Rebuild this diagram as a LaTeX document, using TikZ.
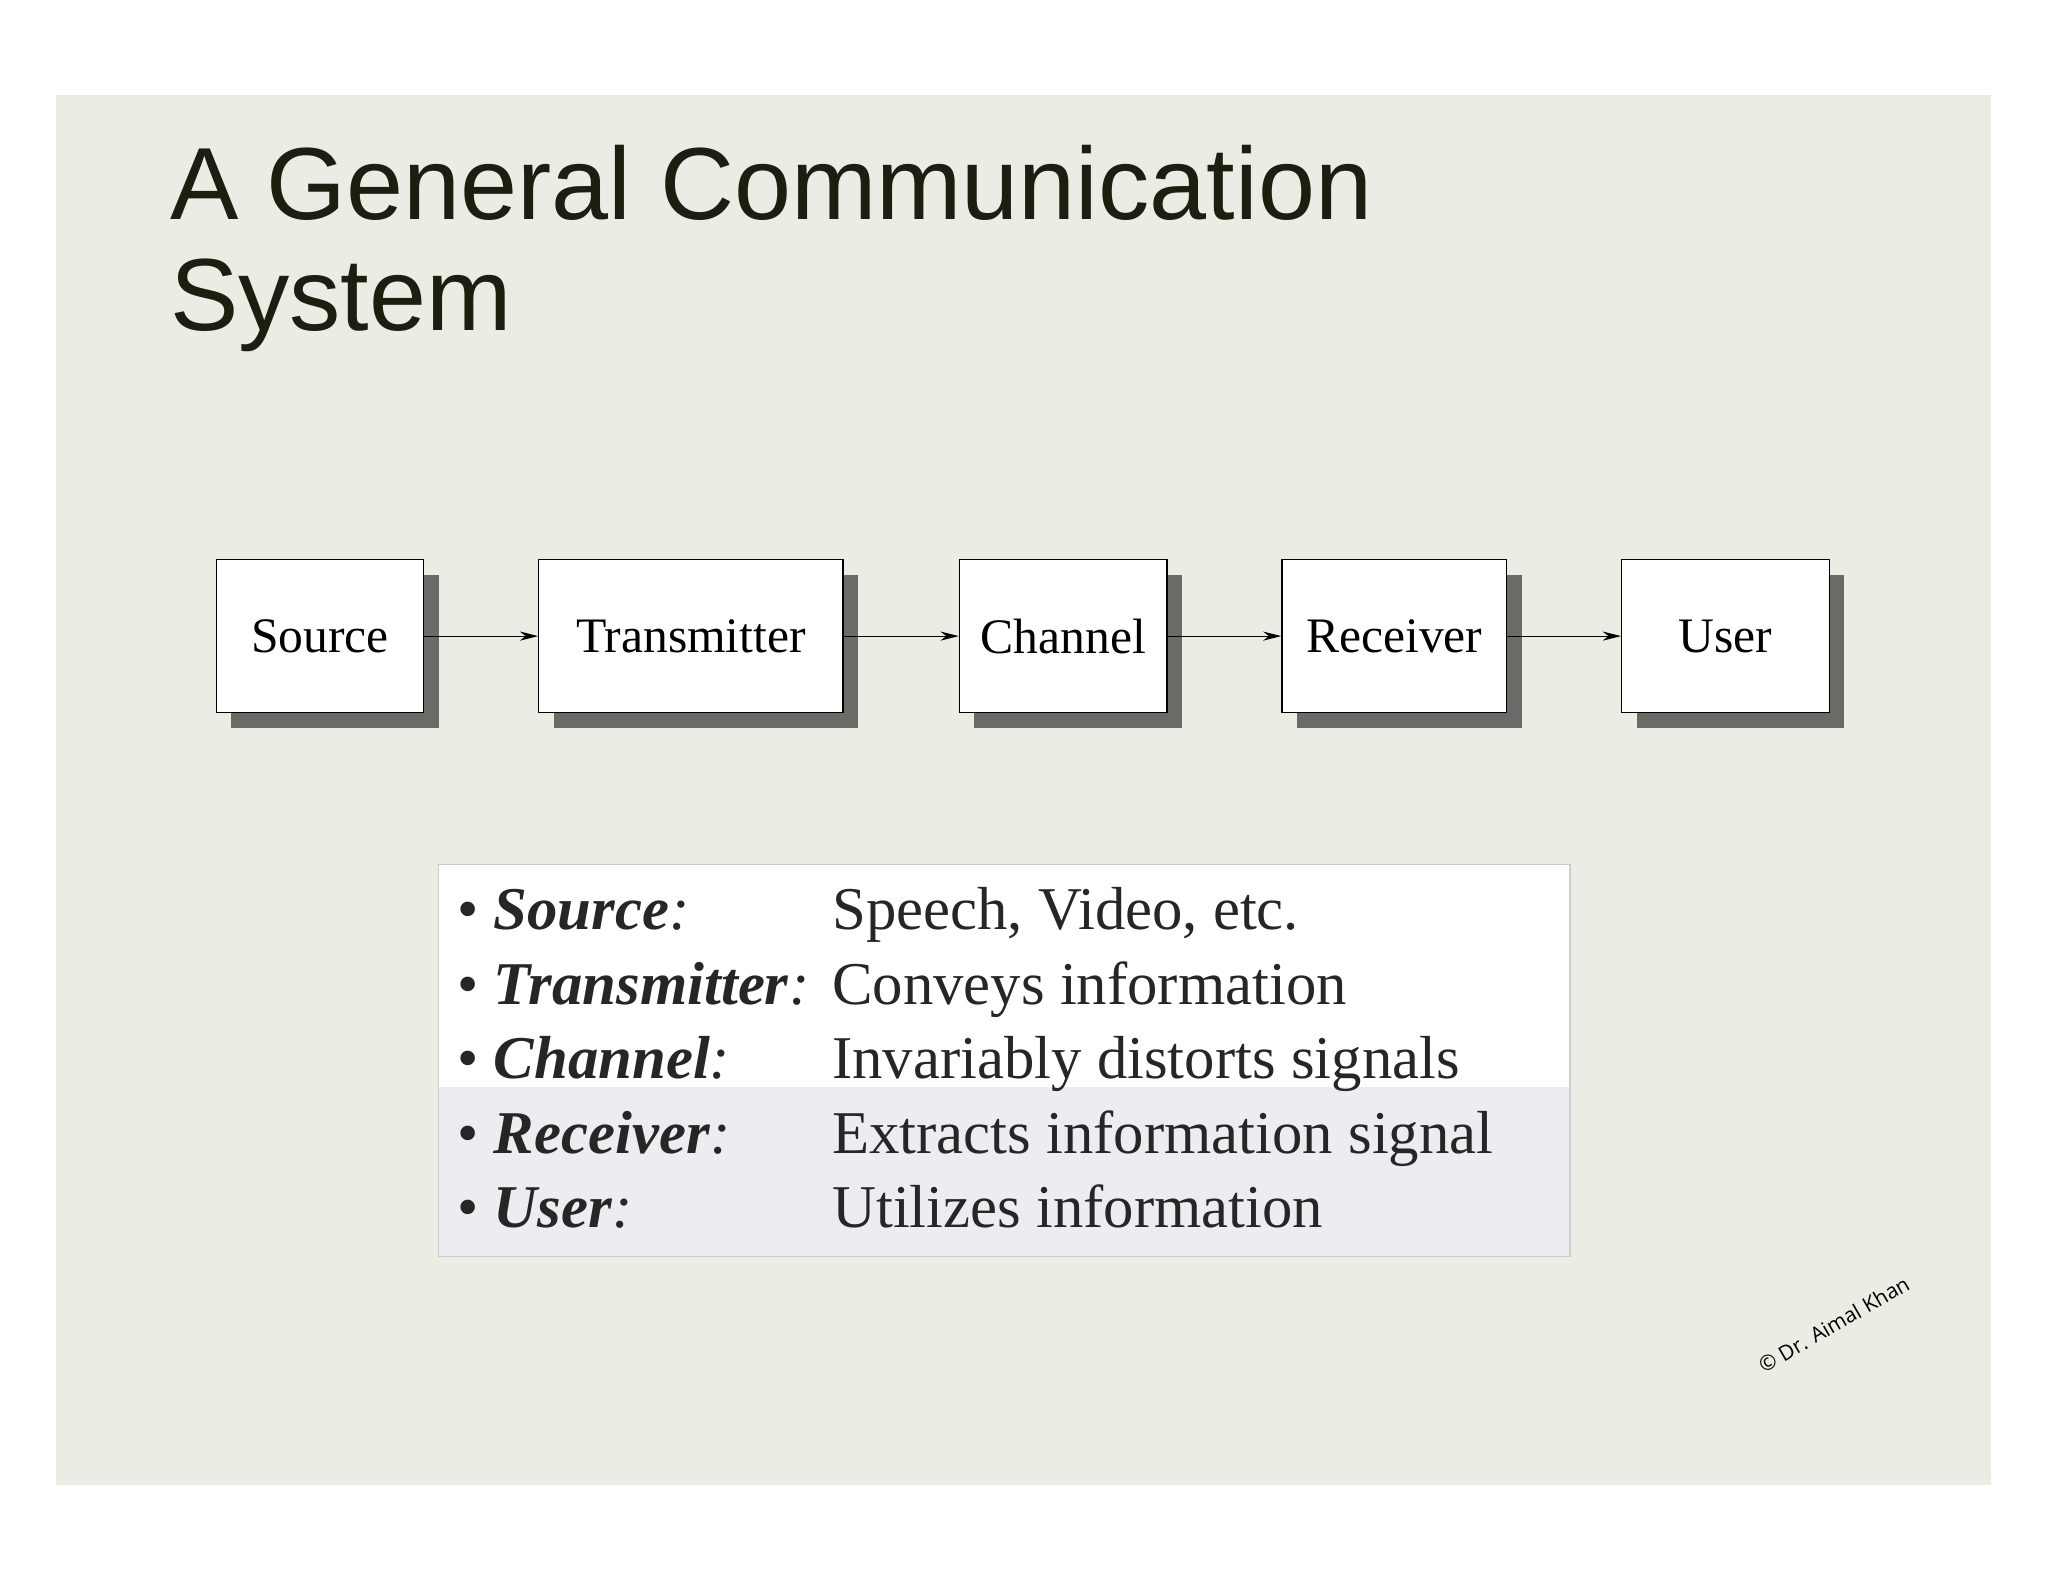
\documentclass[tikz,border=0pt]{standalone}
\usepackage{fontspec}
\setmainfont{Liberation Serif}
\newfontfamily\sansf{Liberation Sans}
\newfontfamily\opensans{Open Sans}
\usetikzlibrary{arrows.meta}
\definecolor{bgc}{HTML}{EBECE3}
\definecolor{shd}{HTML}{6A6A66}
\definecolor{lowc}{HTML}{EDEDF1}
\definecolor{titc}{HTML}{1A1F10}
\begin{document}
\begin{tikzpicture}[x=1pt,y=-1pt,
  blk/.style={draw=black,line width=1pt,fill=white,minimum height=117pt,inner sep=0pt,font=\fontsize{38}{40}\selectfont},
  arr/.style={-{Stealth[length=14pt,width=7pt]},line width=0.8pt}]
\useasboundingbox (0,0) rectangle (1568,1211);
\fill[white] (0,0) rectangle (1568,1211);
\fill[bgc] (43,73) rectangle (1524,1137);
\node[anchor=base west,text=titc,font=\sansf\fontsize{78.5}{86}\selectfont,inner sep=0pt] (title) at (130,168) {A General Communication};
\node[anchor=base west,text=titc,font=\sansf\fontsize{78.5}{86}\selectfont,inner sep=0pt] (title2) at (130,253) {System};
\foreach \n/\l/\x/\w in {s/Source/165/159,t/Transmitter/412/233,c/Channel/734/159,r/Receiver/981/172,u/User/1241/159}{
  \fill[shd] (\x+12,440) rectangle (\x+\w+12,557);
  \node[blk,minimum width=\w pt,anchor=north west] (\n) at (\x,428) {\l};
}
\draw[arr] (s) -- (t);
\draw[arr] (t) -- (c);
\draw[arr] (c) -- (r);
\draw[arr] (r) -- (u);
\fill[white] (336,662) rectangle (1202,832);
\fill[lowc] (336,832) rectangle (1202,962);
\draw[gray!40,line width=0.8pt] (336,662) rectangle (1202,962);
\foreach \t/\d/\y in {Source/{Speech, Video, etc.}/712,Transmitter/{Conveys information}/769,Channel/{Invariably distorts signals}/826,Receiver/{Extracts information signal}/883,User/{Utilizes information}/940}{
  \node[anchor=base west,inner sep=0pt,font=\fontsize{46.5}{50}\selectfont,text=black!85] (k\t) at (350,\y) {\textbullet\ \textbf{\textit{\t}}\textit{:}};
  \node[anchor=base west,inner sep=0pt,font=\fontsize{46.5}{50}\selectfont,text=black!85] (d\t) at (637,\y) {\d};
}
\node[rotate=30,font=\opensans\fontsize{16}{17}\selectfont] (wm) at (1404,1014) {© Dr. Aimal Khan};
\end{tikzpicture}
\end{document}
